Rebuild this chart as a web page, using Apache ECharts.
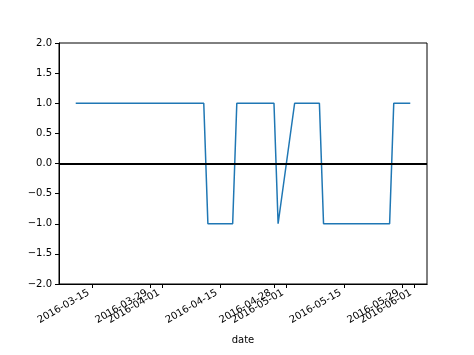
<!DOCTYPE html>
<html>
<head>
<meta charset="utf-8">
<script src="https://cdn.jsdelivr.net/npm/echarts@6/dist/echarts.min.js"></script>
<style>html,body{margin:0;padding:0;background:#fff}#c{width:474px;height:355px}</style>
</head>
<body>
<div id="c"></div>
<script>
const dates = [
  '2016-03-11','2016-03-14','2016-03-15','2016-03-16','2016-03-17','2016-03-18',
  '2016-03-21','2016-03-22','2016-03-23','2016-03-24','2016-03-25',
  '2016-03-28','2016-03-29','2016-03-30','2016-03-31','2016-04-01',
  '2016-04-05','2016-04-06','2016-04-07','2016-04-08',
  '2016-04-11','2016-04-12','2016-04-13','2016-04-14','2016-04-15',
  '2016-04-18','2016-04-19','2016-04-20','2016-04-21','2016-04-22',
  '2016-04-25','2016-04-26','2016-04-27','2016-04-28','2016-04-29',
  '2016-05-03','2016-05-04','2016-05-05','2016-05-06',
  '2016-05-09','2016-05-10','2016-05-11','2016-05-12','2016-05-13',
  '2016-05-16','2016-05-17','2016-05-18','2016-05-19','2016-05-20',
  '2016-05-23','2016-05-24','2016-05-25','2016-05-26','2016-05-27',
  '2016-05-30','2016-05-31'
];
const values = [
  1,1,1,1,1,1,
  1,1,1,1,1,
  1,1,1,1,1,
  1,1,1,1,
  1,-1,-1,-1,-1,
  -1,1,1,1,1,
  1,1,1,1,-1,
  1,1,1,1,
  1,-1,-1,-1,-1,
  -1,-1,-1,-1,-1,
  -1,-1,-1,-1,1,
  1,1
];
const xTickLabelsA = ['2016-03-15','2016-04-01','2016-04-15','2016-05-01','2016-05-15','2016-06-01'];
const xTickLabelsB = ['2016-03-29','2016-04-28','2016-05-29'];
const yTicks = [-2,-1.5,-1,-0.5,0,0.5,1,1.5,2];

function ts(s){const p=s.split('-').map(Number);return Date.UTC(p[0],p[1]-1,p[2]);}
function fmt(t){const d=new Date(t);const m=d.getUTCMonth()+1,dd=d.getUTCDate();return d.getUTCFullYear()+'-'+(m<10?'0':'')+m+'-'+(dd<10?'0':'')+dd;}
const xs = dates.map(ts);
const span = xs[xs.length-1]-xs[0];
const xmin = xs[0]-0.05*span, xmax = xs[xs.length-1]+0.05*span;
const font = 'DejaVu Sans';

function xAxisFor(labels, withName){
  const vals = labels.map(ts);
  return {
    type:'value',min:xmin,max:xmax,position:'bottom',offset:0,
    name:withName?'date':'',nameLocation:'middle',nameGap:51,
    nameTextStyle:{fontFamily:font,fontSize:10,color:'#000'},
    axisLine:{show:true,onZero:false,lineStyle:{color:'#000',width:1}},
    axisTick:{show:true,length:4,lineStyle:{color:'#000'},customValues:vals},
    axisLabel:{show:true,rotate:30,margin:6,padding:[0,4,0,0],fontFamily:font,fontSize:10,color:'#000',hideOverlap:false,showMinLabel:true,showMaxLabel:true,customValues:vals,formatter:v=>fmt(v)},
    splitLine:{show:false}
  };
}

const chart = echarts.init(document.getElementById('c'), null, {renderer:'canvas'});
chart.setOption({
  animation:false,
  grid:{left:59,right:47,top:43,bottom:71,show:true,borderColor:'#000',borderWidth:1,backgroundColor:'transparent'},
  xAxis:[xAxisFor(xTickLabelsA,true), xAxisFor(xTickLabelsB,false)],
  yAxis:{
    type:'value',min:-2,max:2,interval:0.5,
    axisLine:{show:true,onZero:false,lineStyle:{color:'#000',width:1}},
    axisTick:{show:true,length:4,lineStyle:{color:'#000'},customValues:yTicks},
    axisLabel:{margin:7,fontFamily:font,fontSize:10,color:'#000',customValues:yTicks,formatter:v=>(v<0?'\u2212':'')+Math.abs(v).toFixed(1)},
    splitLine:{show:false}
  },
  series:[{
    type:'line',xAxisIndex:0,
    data:xs.map((x,i)=>[x,values[i]]),
    showSymbol:false,symbol:'none',
    lineStyle:{color:'#1f77b4',width:1.5},
    markLine:{
      silent:true,symbol:'none',label:{show:false},
      lineStyle:{color:'#000',width:2,type:'solid'},
      data:[{yAxis:0}]
    }
  }]
});
</script>
</body>
</html>
